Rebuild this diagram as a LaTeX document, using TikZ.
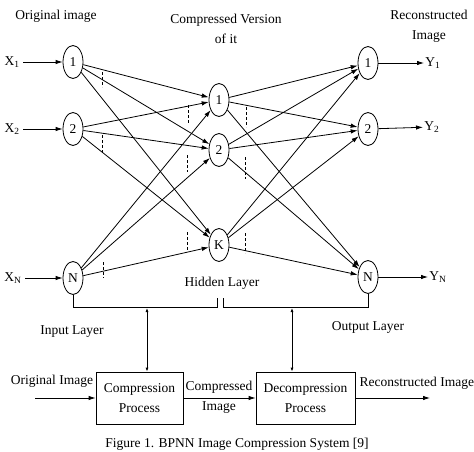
\documentclass[tikz,border=0pt]{standalone}
\usepackage{fontspec}
\setmainfont{Liberation Serif}
\usetikzlibrary{shapes.geometric,arrows.meta}

\begin{document}
\begin{tikzpicture}[
    x=1pt,y=-1pt,
    line width=0.8pt,
    font=\fontsize{13.5}{20}\selectfont,
    neuron/.style={draw,ellipse,minimum width=20pt,minimum height=33pt,inner sep=0pt},
    conn/.style={-{Latex[length=7pt,width=4.5pt]}},
    link/.style={{Latex[length=4pt,width=3pt]}-{Latex[length=4pt,width=3pt]}},
    proc/.style={draw,minimum height=52pt,align=center,inner sep=0pt},
    wt/.style={dash pattern=on 3pt off 2pt},
    lbl/.style={align=center,inner sep=1pt}
  ]
  \useasboundingbox (0,0) rectangle (474,452);

  % neurons
  \node[neuron] (i1) at (73,62) {1};
  \node[neuron] (i2) at (73,129) {2};
  \node[neuron] (iN) at (73,278) {N};
  \node[neuron] (h1) at (219,100) {1};
  \node[neuron] (h2) at (219,150) {2};
  \node[neuron] (hK) at (219,245) {K};
  \node[neuron] (o1) at (368,63) {1};
  \node[neuron] (o2) at (368,129) {2};
  \node[neuron] (oN) at (368,277) {N};

  % inputs and outputs
  \node (x1) at (12,62) {X\textsubscript{1}};
  \node (x2) at (12,129) {X\textsubscript{2}};
  \node (xN) at (13,278) {X\textsubscript{N}};
  \node[anchor=west,inner sep=1pt] (y1) at (424,63) {Y\textsubscript{1}};
  \node[anchor=west,inner sep=1pt] (y2) at (423,127) {Y\textsubscript{2}};
  \node[anchor=west,inner sep=1pt] (yN) at (428,277) {Y\textsubscript{N}};
  \foreach \n in {1,2,N} {
    \draw[conn] (x\n) -- (i\n);
    \draw[conn] (o\n) -- (y\n);
  }

  % weights
  \foreach \a in {i1,i2,iN}
    \foreach \b in {h1,h2,hK}
      \draw[conn] (\a) -- (\b);
  \foreach \a in {h1,h2,hK}
    \foreach \b in {o1,o2,oN}
      \draw[conn] (\a) -- (\b);
  \draw[wt] (102,72) -- (102,87);
  \draw[wt] (102,135) -- (102,152);
  \draw[wt] (103,262) -- (103,278);
  \draw[wt] (188,105) -- (188,123);
  \draw[wt] (187,155) -- (187,172);
  \draw[wt] (187,232) -- (187,250);
  \draw[wt] (246,107) -- (246,127);
  \draw[wt] (245,157) -- (245,179);
  \draw[wt] (245,233) -- (245,253);

  % layer brackets
  \draw (iN.south) |- (217,307) -- (217,298);
  \draw (223,298) -- (223,307) -| (oN.south);
  \coordinate (inbr) at (147,308);
  \coordinate (outbr) at (292,308);

  % labels
  \node (orig) at (56,16) {Original image};
  \node[lbl] (cver) at (226,29) {Compressed Version\\of it};
  \node[lbl] (recon) at (429,26) {Reconstructed\\Image};
  \node (hid) at (222,283) {Hidden Layer};
  \node (inl) at (72,332) {Input Layer};
  \node (outl) at (368,327) {Output Layer};

  % processes
  \node[proc,minimum width=87pt] (comp) at (139.5,398) {Compression\\Process};
  \node[proc,minimum width=99pt] (decomp) at (305.5,398) {Decompression\\Process};
  \draw[link] (inbr) -- (inbr |- comp.north);
  \draw[link] (outbr) -- (outbr |- decomp.north);
  \coordinate (src) at (35,398);
  \coordinate (dst) at (430,398);
  \draw[conn] (src) -- (comp);
  \draw[conn] (comp) -- (decomp);
  \draw[conn] (decomp) -- (dst);
  \node (origb) at (52,381) {Original Image};
  \node[lbl] (cimg) at (219,397) {Compressed\\Image};
  \node[anchor=west] (rimg) at (356,383) {Reconstructed Image};

  \node[inner sep=0pt] (cap) at (237,444) {Figure 1. BPNN Image Compression System [9]};
\end{tikzpicture}
\end{document}
